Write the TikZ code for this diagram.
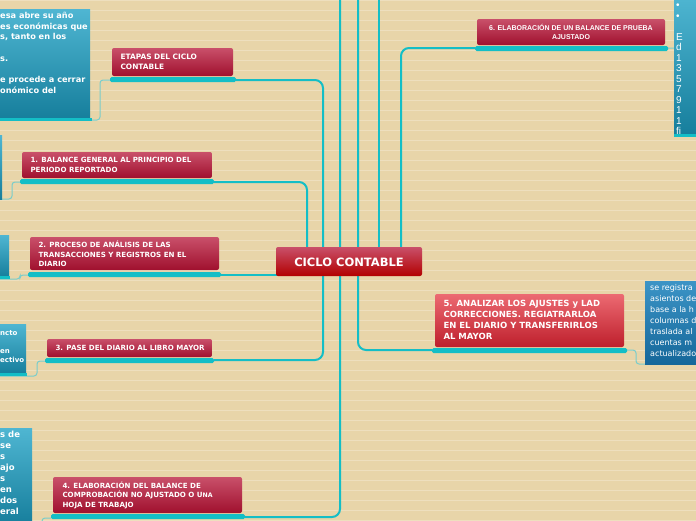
\documentclass[tikz,border=0pt]{standalone}
\usepackage{fontspec}
\setmainfont{DejaVu Sans}
\newfontfamily\arialf{Liberation Sans}
\begin{document}
\begin{tikzpicture}[x=1pt,y=-1pt,
  bar/.style={fill=barc,rounded corners=1.5pt},
  lab/.style={text=white,font=\bfseries\fontsize{7.1}{9.5}\selectfont,align=left,anchor=west},
  blab/.style={text=white,font=\bfseries\fontsize{8.2}{10.7}\selectfont,align=left,anchor=north west,inner sep=0},
  thick line/.style={draw=barc,line width=2pt,rounded corners=8pt},
  thin line/.style={draw=thinc,line width=1pt,rounded corners=3pt},
  bluebox/.style={top color=blueT,bottom color=blueB,draw=none}]
\definecolor{bg}{HTML}{E8D5A9}
\definecolor{barc}{HTML}{14BEC6}
\definecolor{thinc}{HTML}{79CDCB}
\definecolor{redT}{HTML}{C9506A}
\definecolor{redB}{HTML}{A0102E}
\definecolor{red5T}{HTML}{EC6A72}
\definecolor{red5B}{HTML}{BE1F2C}
\definecolor{blueT}{HTML}{4FB6D2}
\definecolor{blueB}{HTML}{167E9C}
\definecolor{blue2T}{HTML}{3C94C6}
\definecolor{blue2B}{HTML}{15679A}
\tikzset{redbox/.style={rounded corners=2pt,top color=redT,bottom color=redB,draw=none}}
\useasboundingbox (0,0) rectangle (696,520);
\clip (0,0) rectangle (696,520);
\fill[bg] (0,0) rectangle (696,520);
\foreach \r in {0,...,52}{
  \draw[white!25!bg,line width=0.4pt] (0,\r*10) -- (696,\r*10);
}
\coordinate (ctop1) at (340,0);
\coordinate (ctop2) at (358,0);
\coordinate (ctop3) at (379,0);
\draw[thick line] (236,80) -- (323,80) -- (323,360) -- (214,360);
\draw[thick line] (214,182) -- (307,182) -- (307,262);
\draw[thick line] (221,275) -- (290,275);
\draw[thick line] (ctop1) -- (340,517) -- (245,517);
\draw[thick line] (ctop2) -- (358,350) -- (432,350);
\draw[thick line] (ctop3) -- (379,262);
\draw[thick line] (401,262) -- (401,48) -- (475,48);
\draw[thin line] (110,80) -- (100,80) -- (100,120) -- (0,120);
\draw[thin line] (20,182) -- (12,182) -- (12,199) -- (0,199);
\draw[thin line] (28,275) -- (20,275) -- (20,279) -- (0,279);
\draw[thin line] (45,361) -- (37,361) -- (37,376) -- (0,376);
\draw[thin line] (51,518) -- (42,518) -- (42,521);
\draw[thin line] (627,350) -- (636,350) -- (636,364) -- (645,364);
\draw[thin line] (668,48) -- (677,48) -- (677,136) -- (690,136);
\path[bluebox] (-5,9) rectangle (90,119);
\fill[barc] (-5,118) rectangle (92,121);
\node[blab] (ta) at (0,12) {esa abre su año\\es económicas que\\s, tanto en los\\ \\s.\\ \\e procede a cerrar\\onómico del};
\path[bluebox] (-5,135) rectangle (2,199);
\path[bluebox] (-5,235) rectangle (9,277);
\fill[barc] (-5,276) rectangle (10,279);
\path[bluebox] (-5,324) rectangle (26,374);
\fill[barc] (-5,373) rectangle (27,376);
\node[blab,font=\bfseries\fontsize{7}{9.2}\selectfont] (td) at (0,330) {ncto\\ \\en\\ectivo};
\path[bluebox] (-5,428) rectangle (32,525);
\node[blab,font=\bfseries\fontsize{8.5}{11}\selectfont] (te) at (0,431) {s de\\ se\\s\\ajo\\s\\ en\\dos\\eral};
\path[top color=blue2T,bottom color=blue2B] (645,281) rectangle (700,364);
\node[blab,font=\fontsize{8}{11}\selectfont] (tf) at (650,284) {se registra\\asientos de\\base a la h\\columnas d\\traslada al\\cuentas m\\actualizado};
\path[bluebox] (674,-5) rectangle (700,135);
\fill[barc] (674,134) rectangle (700,137);
\node[blab,font=\arialf\fontsize{10}{10.5}\selectfont] (tg) at (676,4) {•\\•\\ \\E\\d\\1\\3\\5\\7\\9\\1\\1\\fi};
\path[redbox] (112,48) rectangle (233,76);
\fill[bar] (110,77) rectangle (236,82);
\node[lab,font=\bfseries\fontsize{7.4}{10}\selectfont] (etapas) at (117,62) {ETAPAS DEL CICLO\\CONTABLE};
\path[redbox] (22,152) rectangle (212,178);
\fill[bar] (20,179) rectangle (214,184);
\node[lab] (n1) at (27,165) {1. BALANCE GENERAL AL PRINCIPIO DEL\\PERIODO REPORTADO};
\path[redbox] (30,237) rectangle (219,270);
\fill[bar] (28,272) rectangle (221,277);
\node[lab] (n2) at (35,254) {2. PROCESO DE ANÁLISIS DE LAS\\TRANSACCIONES Y REGISTROS EN EL\\DIARIO};
\path[redbox] (47,339) rectangle (212,357);
\fill[bar] (45,358) rectangle (214,363);
\node[lab] (n3) at (52,348) {3. PASE DEL DIARIO AL LIBRO MAYOR};
\path[redbox] (53,477) rectangle (242,513);
\fill[bar] (51,514) rectangle (245,519);
\node[lab] (n4) at (59,495) {4. ELABORACIÓN DEL BALANCE DE\\COMPROBACIÓN NO AJUSTADO O U{\fontsize{6.2}{9}\selectfont NA}\\HOJA DE TRABAJO};
\path[redbox] (477,19) rectangle (665,45);
\fill[bar] (475,46) rectangle (668,51);
\node[text=white,font=\arialf\bfseries\fontsize{7}{8.5}\selectfont,align=center] (n6) at (571,32) {6. ELABORACIÓN DE UN BALANCE DE PRUEBA\\AJUSTADO};
\path[redbox,top color=red5T,bottom color=red5B] (435,294) rectangle (624,347);
\fill[bar] (432,348) rectangle (627,353);
\node[lab,font=\bfseries\fontsize{8.5}{11.2}\selectfont] (n5) at (440,320) {5. ANALIZAR LOS AJUSTES y LAD\\CORRECCIONES. REGIATRARLOA\\EN EL DIARIO Y TRANSFERIRLOS\\AL MAYOR};
\path[redbox,top color=redT,bottom color=red!70!black] (276,247) rectangle (422,276);
\node[text=white,font=\bfseries\fontsize{11.5}{13}\selectfont] (center) at (349,262) {CICLO CONTABLE};
\end{tikzpicture}
\end{document}
